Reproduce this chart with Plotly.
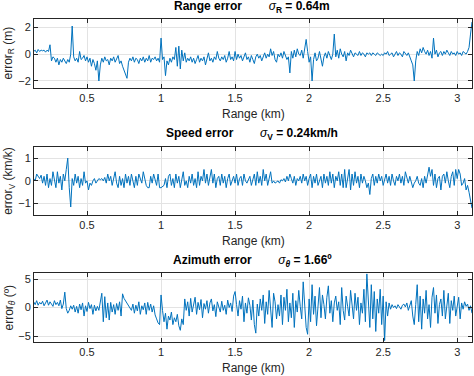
import numpy as np
import plotly.graph_objects as go

# Range samples (km)
range_km = np.round(np.arange(0.14, 3.105, 0.01), 2)

range_err = [
    0.2, 0.3, 0.1, 0.35, 0.2, 0.3,
    0.25, 0.3, 0.15, 0.3, 0.2, 0.7, -0.5, -0.2, -0.3, -0.6,
    -0.3, -0.8, -0.4, -0.6, -0.3, -0.5, -0.7, -0.4, -0.6, 0.0,
    2.1, -0.2, -0.5, -0.3, -0.6, 0.2, -0.4, -0.3, -0.1, -0.5,
    -0.2, -0.6, -0.3, -0.9, -0.4, -0.7, -1.2, -0.5, -2.0, -0.8,
    -0.3, -0.6, -0.2, -0.5, -0.4, -0.8, -0.3, -0.5, -0.2, -0.6,
    -0.4, -0.1, -0.7, -0.5, -0.9, -1.2, -1.5, -1.8, -0.6, -0.3,
    -0.5, -0.2, -0.6, -0.3, -0.4, -0.7, -0.3, -0.5, -0.2, -0.6,
    -0.3, -0.5, -0.1, -0.6, -0.3, -0.4, -0.2, -0.5, -0.3, -0.6,
    1.2, -0.4, -0.2, -1.6, -0.5, -0.8, -0.3, -0.6, -0.2, -0.4,
    0.5, -0.9, 0.6, -1.1, 0.3, -0.5, 0.1, -0.6, -0.3, -0.5,
    -0.2, -0.6, -0.3, -0.7, -0.4, -0.1, -0.6, -0.3, -0.5, -0.2,
    -0.8, -0.4, 0.1, -0.5, -0.3, -0.6, -0.2, -0.4, 0.2, -0.3,
    -0.5, -0.2, -0.4, -0.1, -0.6, -0.3, 0.2, -0.4, -0.2, -0.5,
    0.2, -0.4, 0.0, -0.3, -0.1, -0.5, -0.2, 0.1, -0.4, -0.2,
    -0.6, -0.1, -0.4, -0.7, -0.2, 0.0, -0.3, -0.1, -0.5, -0.2,
    0.1, -0.3, 0.0, -0.2, 0.4, -0.1, 0.2, -0.4, -0.6, 0.0,
    -0.2, 0.1, -0.3, 0.2, -0.1, -0.4, -0.2, -1.4, 0.2, -0.3,
    0.3, -0.2, 0.4, 0.0, -0.1, 0.3, -0.3, 0.5, 1.1, 0.2,
    -0.6, -0.2, -2.0, -0.4, 0.1, -0.5, -0.3, 0.2, -0.4, -0.9,
    -0.2, 0.1, -0.3, 0.2, -0.1, -0.4, 0.0, 1.5, -0.2, 0.3,
    -0.3, 0.4, 0.0, -0.2, 0.2, -0.5, 0.1, -0.1, 0.3, 0.0,
    -0.2, 0.1, 0.0, -0.1, 0.2, -0.1, 0.1, 0.0, -0.2, 0.1,
    0.0, 0.1, -0.1, 0.1, 0.0, -0.1, 0.1, 0.0, -0.1, 0.0,
    -0.1, 0.1, 0.0, 0.2, -0.1, 0.0, 0.1, -0.2, 0.0, 0.2,
    -0.1, 0.1, 0.0, -0.2, 0.2, 0.0, -0.1, 0.1, -0.3, -0.5,
    -0.8, -2.0, -0.5, 0.2, -0.1, 0.4, 0.1, 0.5, 0.2, 0.0,
    0.3, -0.1, 0.2, -0.3, 1.2, 0.0, 0.3, -0.2, 0.1, 0.2,
    -0.1, 0.2, 0.0, 0.3, 0.1, -0.1, 0.2, 0.0, 0.1, -0.1,
    0.2, 0.0, 0.1, -0.1, 0.2, 0.1, 0.0, 0.2, 0.5, 1.5, 2.4,
]

speed_err = [
    0.1, 0.0, 0.3, 0.2, 0.1, 0.25,
    -0.1, 0.2, -0.2, 0.3, -0.3, 0.1, -0.2, 0.4, 0.0, -0.3,
    0.4, -0.1, 0.2, -0.4, 0.3, 0.0, 0.5, 1.0, -0.3, -1.15,
    0.1, -0.2, 0.3, -0.1, 0.2, -0.3, 0.1, -0.2, 0.4, -0.1,
    0.0, -0.4, -0.1, -0.2, 0.0, 0.1, -0.1, 0.0, 0.1, 0.05,
    0.1, 0.0, 0.15, -0.1, 0.3, 0.0, 0.2, -0.2, 0.1, 0.4,
    -0.1, -0.3, 0.2, -0.2, 0.1, -0.3, 0.3, -0.1, 0.2, -0.2,
    0.3, 0.0, -0.3, 0.2, -0.2, 0.3, 0.1, -0.1, 0.4, 0.0,
    -0.2, -0.3, -0.3, 0.2, -0.1, 0.3, 0.0, -0.2, 0.3, -0.3,
    -0.3, -0.25, -0.2, 0.1, -0.3, 0.2, 0.3, -0.2, 0.1, -0.3,
    0.3, -0.1, 0.2, -0.3, 0.1, 0.4, -0.2, 0.0, -0.3, 0.2,
    -0.1, 0.3, -0.2, 0.1, -0.3, 0.4, -0.2, 0.2, 0.0, 0.5,
    -0.1, 0.3, -0.2, 0.2, 0.5, -0.1, 0.3, -0.3, 0.1, 0.2,
    -0.2, 0.3, -0.1, 0.2, -0.3, 0.1, 0.3, -0.2, 0.0, 0.2,
    -0.1, 0.3, -0.2, 0.1, 0.2, -0.2, 0.3, 0.0, -0.1, 0.1,
    0.2, -0.2, 0.1, 0.3, -0.2, 0.4, -0.1, 0.2, -0.2, 0.5,
    0.0, 0.3, -0.2, 0.2, 0.4, -0.1, 0.0, -0.1, -0.05, 0.0,
    -0.1, 0.05, 0.0, 0.1, -0.05, 0.2, 0.0, 0.3, 0.1, -0.1,
    0.2, -0.2, 0.1, 0.0, 0.2, -0.1, 0.3, 0.0, 0.2, -0.2,
    0.1, 0.3, -0.3, 0.2, -0.1, 0.3, -0.2, 0.0, 0.2, -0.3,
    0.3, -0.1, 0.2, -0.2, 0.4, -0.1, 0.3, -0.3, 0.2, 0.0,
    0.4, -0.2, 0.3, -0.3, 0.5, -0.3, 0.1, 0.5, -0.4, 0.3,
    -0.2, 0.4, -0.1, 0.2, -0.3, 0.3, -0.1, 0.2, 0.0, -0.3,
    -0.1, -0.6, 0.1, 0.3, -0.2, 0.2, -0.1, 0.3, 0.0, 0.2,
    -0.2, 0.1, 0.3, -0.1, 0.2, -0.2, 0.3, 0.0, -0.2, 0.2,
    0.0, 0.3, -0.1, 0.2, -0.2, 0.4, 0.1, -0.1, 0.2, 0.0,
    -0.3, -0.1, 0.0, 0.2, -0.1, -0.2, 0.1, -0.3, 0.2, -0.1,
    0.3, 0.6, 0.2, 0.5, -0.2, 0.3, -0.3, 0.1, 0.2, -0.4,
    0.2, 0.3, -0.1, 0.4, 0.0, -0.3, 0.2, 0.4, -0.2, 0.5,
    0.1, 0.5, 0.3, -0.2, -0.1, 0.1, -0.4, -0.2, -0.5, -0.8, -1.2,
]

azimuth_err = [
    1.0, 0.5, 1.2, 0.4, 0.9, 0.6,
    1.1, 0.3, 0.8, 1.3, 0.4, 1.0, 0.6, 0.2, 1.2, 0.5,
    0.9, 0.3, 1.3, -0.2, 0.6, 2.7, -0.2, -1.0, -0.5, 0.3,
    -0.3, 0.4, -0.8, 0.2, -1.0, 0.6, -0.4, 0.8, -1.5, 0.3,
    -0.7, 0.9, -0.2, 0.5, -1.2, 0.4, -0.6, 0.2, -0.5, 1.0,
    2.5, -2.5, 1.9, -1.8, 0.8, -2.2, 0.9, -0.8, 0.5, -1.2,
    0.7, -0.5, 1.0, -1.5, 2.4, 1.6, 1.2, 0.9, 0.5, 0.1,
    -0.5, 0.6, -1.0, 0.4, -0.6, 1.0, -1.2, 0.3, -0.4, 0.8,
    -1.2, 0.9, -0.5, 0.6, -0.8, 0.3, -1.3, -2.0, -2.7, -3.0,
    2.2, -0.5, -2.5, -1.0, -3.8, -1.5, -2.2, -0.8, -3.0, -1.8,
    -2.5, -1.2, -3.2, -4.0, -2.0, -3.0, 1.5, -0.5, 1.0, -1.5,
    1.6, -0.8, 0.5, 1.8, -1.2, 0.9, -0.4, 1.4, -1.8, 0.7,
    -0.3, 1.2, -1.0, 0.8, 1.5, -0.6, 0.5, -1.6, 1.0, 0.2,
    -0.8, 1.1, -0.5, 0.4, -1.2, 1.3, 0.0, 0.8, -0.7, 2.0,
    2.8, 0.5, -1.5, 1.2, -0.3, 2.0, -2.5, 0.8, -1.0, 1.7,
    0.4, -2.2, 1.3, -3.0, -4.5, 0.6, -1.5, 1.5, -0.5, 2.2,
    -2.8, 1.0, -1.2, 3.0, -0.8, -3.5, 2.5, 1.0, -2.0, 0.5,
    -1.5, 2.2, -3.0, 1.8, -0.5, 3.2, -2.5, 0.8, -1.8, 2.5,
    -3.5, 1.2, -0.8, 3.0, 0.2, -2.0, 4.5, 1.0, -3.5, -4.7,
    1.5, -2.5, 4.0, -1.2, 2.0, -3.2, 0.5, 3.5, -1.8, 2.2,
    0.5, -2.0, 1.8, 3.8, -1.0, 1.2, -2.5, 0.8, 2.0, -0.5,
    1.0, -3.0, 3.5, -0.5, -2.2, 2.0, 0.2, -1.5, 3.0, 0.5,
    -2.0, 2.5, -0.5, 1.8, -3.0, 0.8, -1.0, 3.2, -2.5, 5.9,
    0.5, -3.5, 4.0, -2.0, 2.8, -4.2, 1.5, -1.0, 3.2, -3.0,
    2.0, -5.8, 1.0, -1.5, 0.8, -0.3, 0.5, 0.0, 0.3, -0.2,
    0.5, 0.2, -0.3, 0.4, 0.6, 0.1, 0.8, -0.5, 0.3, 1.2,
    -1.5, -3.0, 0.5, 4.0, -2.5, 2.0, -3.8, 1.5, -1.0, 3.0,
    -2.0, 0.5, -3.5, 1.8, 3.5, -1.0, 2.2, -2.8, 0.5, 1.5,
    -1.5, 3.0, -2.0, 0.8, 2.5, -2.8, 1.2, -0.5, 2.0, -1.5,
    0.5, 1.8, -2.0, 0.8, -0.3, 1.0, 0.2, 0.6, -0.5, 0.3, -1.0,
]

x_tick_vals = [0.5, 1, 1.5, 2, 2.5, 3]
x_tick_text = ["0.5", "1", "1.5", "2", "2.5", "3"]
y_ticks = [[-2, 0, 2], [-1, 0, 1], [-5, 0, 5]]
y_ranges = [[-2.5, 2.6], [-1.5, 1.5], [-6, 6]]
series = [range_err, speed_err, azimuth_err]

W, H = 474, 376
L, R = 34, 2
plot_w = W - L - R
# plot areas top/bottom in px
boxes = [(19.3, 87.7), (146.7, 215.0), (273.3, 341.7)]

LINE = "#0072BD"
AX = "#262626"
FONT = "Liberation Sans, Arial, sans-serif"

fig = go.Figure()
layout = dict(
    width=W, height=H,
    margin=dict(l=L, r=R, t=0, b=0),
    paper_bgcolor="white", plot_bgcolor="white",
    showlegend=False,
    font=dict(family=FONT, size=11, color=AX),
)

for i, (ys, (top, bot)) in enumerate(zip(series, boxes)):
    n = "" if i == 0 else str(i + 1)
    fig.add_trace(go.Scatter(x=range_km, y=ys, mode="lines",
                             line=dict(color=LINE, width=1),
                             xaxis="x" + n, yaxis="y" + n))
    layout["xaxis" + n] = dict(
        domain=[0, 1], range=[0.142, 3.1], anchor="y" + n,
        tickvals=x_tick_vals, ticktext=x_tick_text,
        ticks="inside", ticklen=4, tickcolor=AX,
        showline=True, linecolor=AX, linewidth=1, mirror="ticks",
        showgrid=True, gridcolor="#e3e3e3", gridwidth=1,
        zeroline=False, tickfont=dict(size=11, color=AX),
    )
    layout["yaxis" + n] = dict(
        domain=[1 - bot / H, 1 - top / H], range=y_ranges[i], anchor="x" + n,
        tickvals=y_ticks[i], ticks="inside", ticklen=4, tickcolor=AX,
        showline=True, linecolor=AX, linewidth=1, mirror="ticks",
        showgrid=True, gridcolor="#e3e3e3", gridwidth=1,
        zeroline=False, tickfont=dict(size=11, color=AX),
    )

fig.update_layout(**layout)

def px_x(px):
    return (px - L) / plot_w

def px_y(py):
    return 1 - py / H

sp = "\u00a0" * 8
titles = [
    ("<b>Range error</b>" + sp + "<i>σ</i><sub><b>R</b></sub><b> = 0.64m</b>", 7),
    ("<b>Speed error</b>" + sp + "<i>σ</i><sub><b>V</b></sub><b> = 0.24km/h</b>", 134),
    ("<b>Azimuth error</b>" + sp + "<i>σ</i><sub><i><b>θ</b></i></sub><b> = 1.66º</b>", 261),
]
xtitle_y = [114, 241, 368]
ytitles = ["error<sub>R</sub> (m)", "error<sub>V</sub> (km/k)", "error<sub><i>θ</i></sub> (º)"]

ann = []
for i in range(3):
    ttxt, ty = titles[i]
    ann.append(dict(text=ttxt, x=px_x(252), y=px_y(ty), xref="paper", yref="paper",
                    xanchor="center", yanchor="middle", showarrow=False,
                    font=dict(size=12, color="black", family=FONT)))
    ann.append(dict(text="Range (km)", x=px_x(253), y=px_y(xtitle_y[i]), xref="paper", yref="paper",
                    xanchor="center", yanchor="middle", showarrow=False,
                    font=dict(size=12, color=AX, family=FONT)))
    top, bot = boxes[i]
    ann.append(dict(text=ytitles[i], x=px_x(9), y=px_y((top + bot) / 2), xref="paper", yref="paper",
                    xanchor="center", yanchor="middle", showarrow=False, textangle=-90,
                    font=dict(size=12, color=AX, family=FONT)))
fig.update_layout(annotations=ann)

fig.write_html("out.html", config={"displayModeBar": False},
               post_script="document.body.style.margin='0';document.body.style.padding='0';")
